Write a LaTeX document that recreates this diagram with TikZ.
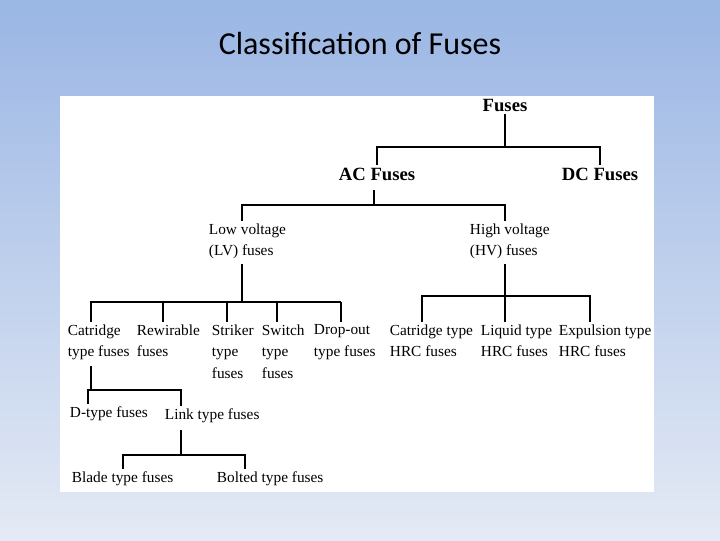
\documentclass[tikz,border=0pt]{standalone}
\usepackage{fontspec}
\setmainfont{Liberation Serif}
\newfontfamily\titlefont{Carlito}
\begin{document}
\begin{tikzpicture}[x=0.75pt,y=-0.75pt,
  lbl/.style={inner sep=2pt,font=\fontsize{11.5}{16}\selectfont,align=left,anchor=north west},
  big/.style={inner sep=2pt,font=\fontsize{14}{16}\selectfont\bfseries},
  ln/.style={line width=1.6pt}]
\definecolor{topc}{HTML}{9AB6E4}
\definecolor{botc}{HTML}{E4EAF5}
\shade[top color=topc,bottom color=botc] (0,0) rectangle (720,540);
\useasboundingbox (0,0) rectangle (720,540);
\fill[white] (60,96) rectangle (654,492);
\node[font=\titlefont\fontsize{24}{28}\selectfont] (title) at (360,44) {Classification of Fuses};
\node[big,anchor=north] (fuses) at (505,96) {Fuses};
\node[big,anchor=north] (ac) at (377,165) {AC Fuses};
\node[big,anchor=north] (dc) at (600,165) {DC Fuses};
\node[lbl] (lv) at (206,221) {Low voltage\\(LV) fuses};
\node[lbl] (hv) at (467,221) {High voltage\\(HV) fuses};
\node[lbl] (cat) at (65,322) {Catridge\\type fuses};
\node[lbl] (rew) at (134,322) {Rewirable\\fuses};
\node[lbl] (str) at (209,322) {Striker\\type\\fuses};
\node[lbl] (swi) at (259,322) {Switch\\type\\fuses};
\node[lbl] (dro) at (311,322) {Drop-out\\type fuses};
\node[lbl] (hcat) at (387,322) {Catridge type\\HRC fuses};
\node[lbl] (liq) at (478,322) {Liquid type\\HRC fuses};
\node[lbl] (exp) at (556,322) {Expulsion type\\HRC fuses};
\node[lbl] (dty) at (67,404) {D-type fuses};
\node[lbl] (lnk) at (162,406) {Link type fuses};
\node[lbl] (bla) at (69,469) {Blade type fuses};
\node[lbl] (bol) at (214,469) {Bolted type fuses};
\draw[ln] (fuses.south) -- (505,147) -| (ac.north);
\draw[ln] (505,147) -| (dc.north);
\draw[ln] (374,190) -- (374,205) -| (lv.north -| 242,0);
\draw[ln] (374,205) -| (hv.north -| 505,0);
\draw[ln] (242,264) -- (242,302) -| (cat.north -| 91,0);
\draw[ln] (91,302) -- (341,302);
\draw[ln] (163,302) -- (rew.north -| 163,0);
\draw[ln] (227,302) -- (str.north -| 227,0);
\draw[ln] (277,302) -- (swi.north -| 277,0);
\draw[ln] (341,302) -- (dro.north -| 341,0);
\draw[ln] (505,264) -- (505,296) -| (hcat.north -| 422,0);
\draw[ln] (505,296) -| (exp.north -| 590,0);
\draw[ln] (505,296) -- (liq.north -| 505,0);
\draw[ln] (91,366) -- (91,390) -| (dty.north -| 88,0);
\draw[ln] (91,390) -| (lnk.north -| 181,0);
\draw[ln] (181,430) -- (181,455) -| (bla.north -| 123,0);
\draw[ln] (181,455) -| (bol.north -| 245,0);
\end{tikzpicture}
\end{document}
